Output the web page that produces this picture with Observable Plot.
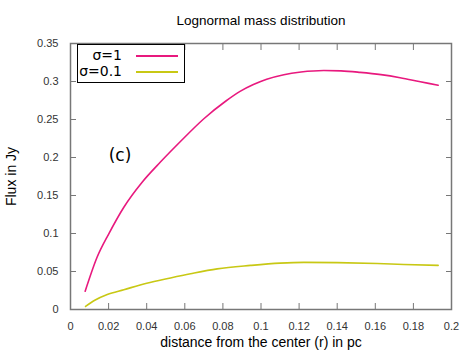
<!DOCTYPE html>
<html><head><meta charset="utf-8">
<script src="https://cdn.jsdelivr.net/npm/d3@7"></script>
<script src="https://cdn.jsdelivr.net/npm/@observablehq/plot@0.6"></script>
<style>
body{margin:0;background:#fff;font-family:"Liberation Sans",Arial,sans-serif;}
#wrap{position:relative;width:474px;height:355px;}
#legend{position:absolute;left:77px;top:44px;width:106px;height:37px;border:1.5px solid #000;background:#fff;font-family:"DejaVu Sans",sans-serif;font-size:14px;}
.row{position:absolute;left:0;height:16px;width:100%;}
.lab{position:absolute;right:62px;top:0;line-height:16px;white-space:nowrap;}
.sw{position:absolute;left:58px;width:42px;top:8px;height:0;border-top:2px solid;}
</style>
</head><body>
<div id="wrap"></div>
<script>
const title = "Lognormal mass distribution";
const xLabel = "distance from the center (r) in pc";
const yLabel = "Flux in Jy";
const seriesNames = ["σ=1", "σ=0.1"];
const seriesColors = ["#e8197e", "#c8c814"];
const xTicks = [0, 0.02, 0.04, 0.06, 0.08, 0.1, 0.12, 0.14, 0.16, 0.18, 0.2];
const yTicks = [0, 0.05, 0.1, 0.15, 0.2, 0.25, 0.3, 0.35];
const annotation = {x: 0.026, y: 0.203, text: "(c)"};

const r1 = [0.0077, 0.014, 0.0201, 0.028, 0.0376, 0.0472, 0.0577, 0.070, 0.0814, 0.089, 0.096, 0.103, 0.112, 0.121, 0.133, 0.142, 0.152, 0.163, 0.173, 0.183, 0.193];
const f1 = [0.024, 0.069, 0.0996, 0.1346, 0.1675, 0.194, 0.221, 0.251, 0.274, 0.287, 0.296, 0.303, 0.309, 0.3125, 0.3145, 0.314, 0.312, 0.309, 0.305, 0.300, 0.295];
const r2 = [0.0079, 0.013, 0.0193, 0.028, 0.040, 0.0525, 0.063, 0.077, 0.0945, 0.110, 0.1225, 0.14, 0.161, 0.175, 0.193];
const f2 = [0.004, 0.0125, 0.0197, 0.026, 0.0346, 0.0415, 0.047, 0.0535, 0.058, 0.061, 0.062, 0.0617, 0.0605, 0.0592, 0.058];

const data = [
  ...r1.map((r, i) => ({r, f: f1[i], s: seriesNames[0]})),
  ...r2.map((r, i) => ({r, f: f2[i], s: seriesNames[1]}))
];

const chart = Plot.plot({
  width: 474, height: 355,
  marginLeft: 70, marginRight: 23, marginTop: 43, marginBottom: 46,
  style: {fontFamily: "'Liberation Sans', Arial, sans-serif", background: "#fff", overflow: "visible"},
  x: {domain: [0, 0.2]},
  y: {domain: [0, 0.35]},
  color: {domain: seriesNames, range: seriesColors},
  marks: [
    Plot.axisX({ticks: xTicks, tickSize: -6, tickPadding: 19, tickFormat: d => d3.format("")(d), fontSize: 11, color: "#333", stroke: "#777",
      label: xLabel, labelAnchor: "center", labelArrow: "none", labelOffset: 37}),
    Plot.axisX({anchor: "top", ticks: xTicks, tickSize: -6, tickFormat: () => "", stroke: "#777", label: null}),
    Plot.axisY({ticks: yTicks, tickSize: -6, tickPadding: 18, tickFormat: d => d3.format("")(d), fontSize: 11, color: "#333", stroke: "#777",
      label: yLabel, labelAnchor: "center", labelArrow: "none", labelOffset: 64}),
    Plot.axisY({anchor: "right", ticks: yTicks, tickSize: -6, tickFormat: () => "", stroke: "#777", label: null}),
    Plot.frame({stroke: "#777", strokeWidth: 1.5}),
    Plot.line(data, {x: "r", y: "f", z: "s", stroke: "s", strokeWidth: 1.6, curve: "monotone-x"}),
    Plot.text([annotation], {x: "x", y: "y", text: "text", fontSize: 17, fill: "#000", fontFamily: "'DejaVu Sans', sans-serif"}),
    Plot.text([title], {frameAnchor: "top", dy: -28, text: d => d, fontSize: 13.5, fill: "#000"})
  ]
});
chart.querySelectorAll("g[aria-label='x-axis label'] text, g[aria-label='y-axis label'] text").forEach(t => {t.setAttribute("font-size", 14); t.setAttribute("fill", "#000");});
const wrap = document.getElementById("wrap");
wrap.appendChild(chart);
const legend = document.createElement("div");
legend.id = "legend";
seriesNames.forEach((n, i) => {
  const row = document.createElement("div");
  row.className = "row";
  row.style.top = (2 + i * 16) + "px";
  row.innerHTML = `<span class="lab">${n}</span><span class="sw" style="border-color:${seriesColors[i]}"></span>`;
  legend.appendChild(row);
});
wrap.appendChild(legend);
</script>
</body></html>
